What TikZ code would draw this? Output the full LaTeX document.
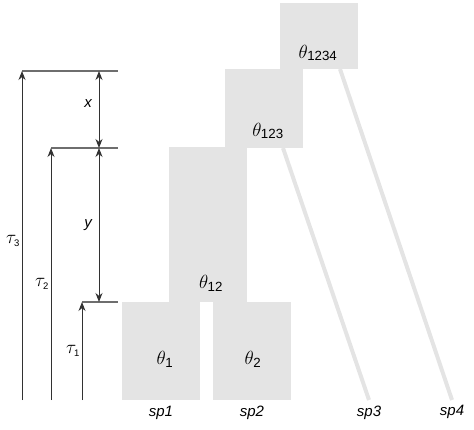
\documentclass[tikz,border=0pt]{standalone}
\usepackage{fix-cm}
\usepackage{amsmath}
\usepackage{fontspec}
\setmainfont{Liberation Sans}
\usetikzlibrary{arrows.meta,positioning}
\definecolor{popgray}{RGB}{228,228,228}
\definecolor{linegray}{RGB}{50,50,50}
\definecolor{refgray}{RGB}{110,110,110}

\begin{document}
\begin{tikzpicture}[x=1pt,y=-1pt,
  popbox/.style={fill=popgray, inner sep=0pt, minimum width=78pt, minimum height=#1},
  theta/.style={font=\fontsize{19}{21}\selectfont},
  splabel/.style={font=\fontsize{15}{17}\selectfont\itshape},
  branch/.style={draw=popgray, line width=4pt},
  arr/.style={-{Stealth[length=9pt,width=7pt]}, line width=1pt, draw=linegray},
  dbl/.style={{Stealth[length=9pt,width=7pt]}-{Stealth[length=9pt,width=7pt]}, line width=1pt, draw=linegray},
  refline/.style={draw=refgray, line width=1.2pt}]
\useasboundingbox (0,0) rectangle (474,430);
% population boxes
\node[popbox=98pt] (box1) at (161,351) {};
\node[popbox=98pt] (box2) at (252,351) {};
\node[popbox=155pt] (box12) at (207.5,225) {};
\node[popbox=79pt] (box123) at (263.5,109) {};
\node[popbox=66pt] (box1234) at (319,36.5) {};
\node[theta] (th1) at (165,359) {$\theta_{\text{1}}$};
\node[theta] (th2) at (253,359) {$\theta_{\text{2}}$};
\node[theta] (th12) at (211,283) {$\theta_{\text{12}}$};
\node[theta] (th123) at (268,131) {$\theta_{\text{123}}$};
\node[theta] (th1234) at (318,53) {$\theta_{\text{1234}}$};
% single-lineage branches
\coordinate (top3) at (283,148); \coordinate (bot3) at (369,400);
\coordinate (top4) at (340,69); \coordinate (bot4) at (452,400);
\draw[branch] (top3) -- (bot3);
\draw[branch] (top4) -- (bot4);
\node[splabel, below=2pt of box1] (sp1) {sp1};
\node[splabel, below=2pt of box2] (sp2) {sp2};
\node[splabel, below=2pt of bot3] (sp3) {sp3};
\node[splabel, below=2pt of bot4] (sp4) {sp4};
% divergence times
\coordinate (base3) at (22,400); \coordinate (t3) at (22,71); \coordinate (e3) at (118,71);
\coordinate (base2) at (51,400); \coordinate (t2) at (51,148); \coordinate (e2) at (118,148);
\coordinate (base1) at (82,400); \coordinate (t1) at (82,302); \coordinate (e1) at (118,302);
\coordinate (m3) at (99,71); \coordinate (m2) at (99,148); \coordinate (m1) at (99,302);
\draw[refline] (t3) -- (e3);
\draw[refline] (t2) -- (e2);
\draw[refline] (t1) -- (e1);
\draw[arr] (base3) -- (t3);
\draw[arr] (base2) -- (t2);
\draw[arr] (base1) -- (t1);
\draw[dbl] (m3) -- (m2);
\draw[dbl] (m2) -- (m1);
\node[theta] (tau3) at (13,241) {$\tau_{\scriptscriptstyle\text{3}}$};
\node[theta] (tau2) at (42,284) {$\tau_{\scriptscriptstyle\text{2}}$};
\node[theta] (tau1) at (73,351) {$\tau_{\scriptscriptstyle\text{1}}$};
\node[splabel] (lx) at (88,104) {x};
\node[splabel] (ly) at (88,225) {y};
\end{tikzpicture}
\end{document}
